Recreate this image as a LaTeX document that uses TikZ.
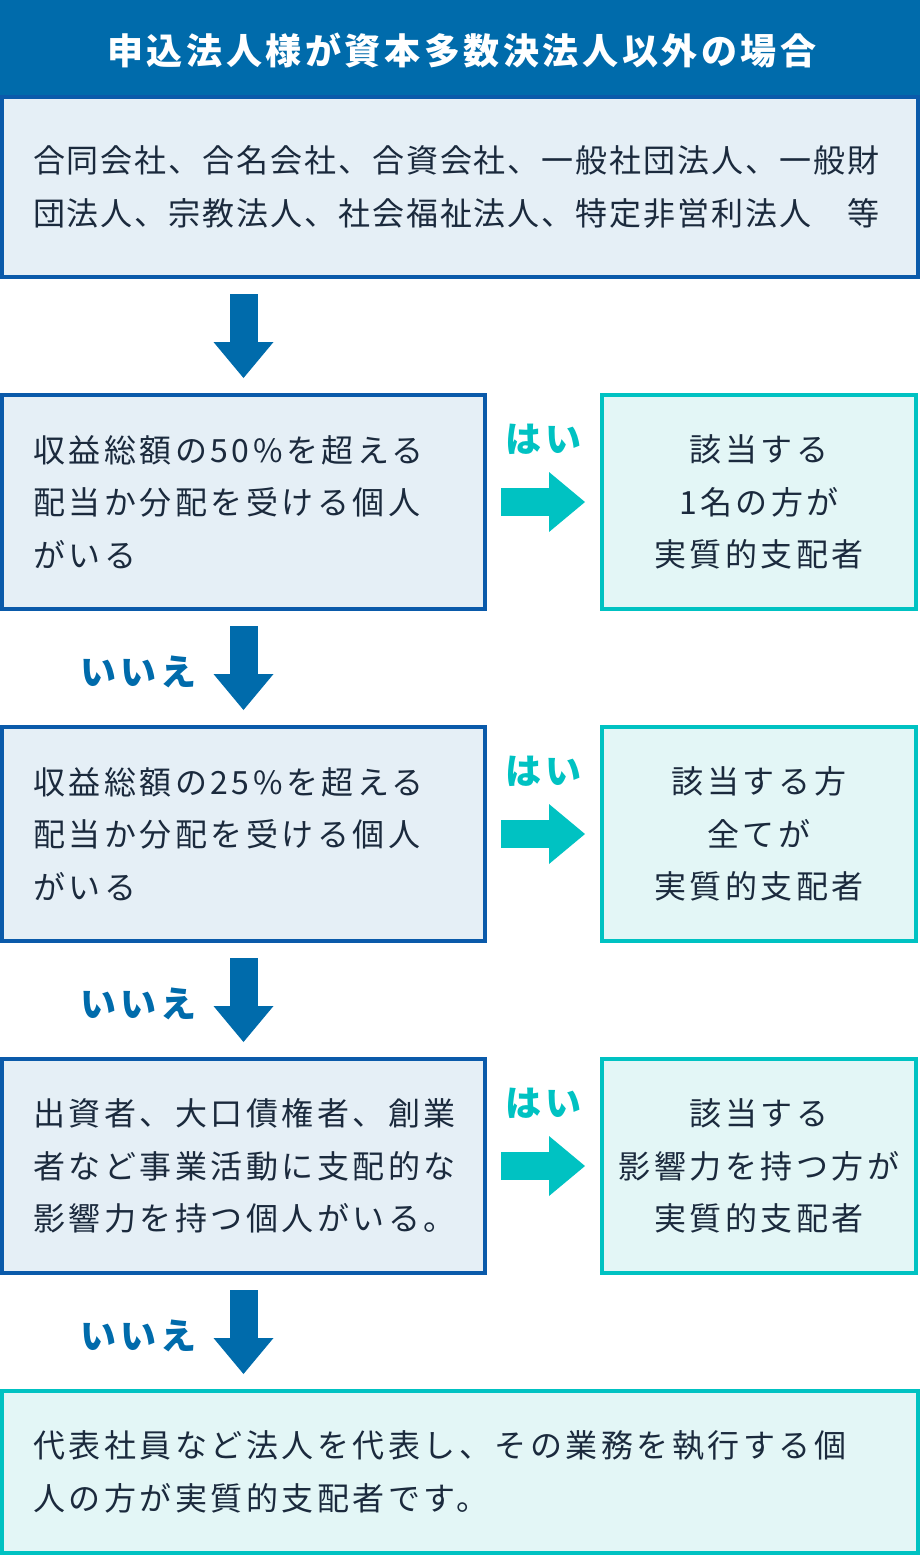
\documentclass[tikz,border=0pt]{standalone}
\usepackage{fontspec}
\setmainfont{Noto Sans CJK JP}
\newfontfamily\jpfont[LetterSpace=11]{Noto Sans CJK JP}
\newfontfamily\jpnarrow[LetterSpace=6]{Noto Sans CJK JP}
\newfontfamily\jptitle[LetterSpace=10]{Noto Sans CJK JP}
\newfontfamily\jplabel[LetterSpace=10]{Noto Sans CJK JP}
\usetikzlibrary{arrows.meta, positioning, calc}
\definecolor{headblue}{RGB}{0, 107, 171}
\definecolor{frameblue}{RGB}{10, 90, 170}
\definecolor{paleblue}{RGB}{229, 239, 246}
\definecolor{flowteal}{RGB}{0, 194, 194}
\definecolor{paleteal}{RGB}{227, 246, 246}
\definecolor{inknavy}{RGB}{27, 42, 61}

\begin{document}
\begin{tikzpicture}[
    x=1pt, y=-1pt,
    bodytext/.style={font=\jpfont\fontsize{32}{52.5}\selectfont, text=inknavy},
    askbox/.style={rectangle, draw=frameblue, fill=paleblue, line width=4pt, bodytext, align=left, inner xsep=31pt, minimum height=214pt, outer sep=0pt},
    hitbox/.style={rectangle, draw=flowteal, fill=paleteal, line width=4pt, bodytext, align=center, minimum width=314pt, minimum height=214pt, outer sep=0pt},
    downflow/.style={draw=headblue, line width=28pt, -{Triangle[length=36pt, width=60pt, line width=0pt]}, shorten <=17pt, shorten >=17pt},
    sideflow/.style={draw=flowteal, line width=28pt, -{Triangle[length=36pt, width=60pt, line width=0pt]}, shorten <=16pt, shorten >=17pt},
    yeslabel/.style={font=\jplabel\bfseries\fontsize{36}{40}\selectfont, text=flowteal},
    nolabel/.style={font=\jplabel\bfseries\fontsize{36}{40}\selectfont, text=headblue, left=30pt, yshift=-4pt}
]
\useasboundingbox (0,0) rectangle (920,1556);

% Header and entity types
\node[askbox, font=\jpnarrow\fontsize{32}{52.5}\selectfont, text width=854pt, minimum height=180pt] (types) at (460,187) {合同会社、合名会社、合資会社、一般社団法人、一般財\\団法人、宗教法人、社会福祉法人、特定非営利法人　等};
\node[rectangle, fill=headblue, minimum width=920pt, minimum height=95pt, inner sep=0pt] (header) at (460,47.5) {};
\node[font=\jptitle\bfseries\fontsize{36}{40}\selectfont, text=white] (title) at (462,50) {申込法人様が資本多数決法人以外の場合};

% Questions
\node[askbox, text width=421pt] (askA) at (243.5,502) {収益総額の50\%を超える\\配当か分配を受ける個人\\がいる};
\node[askbox, text width=421pt] (askB) at (243.5,834) {収益総額の25\%を超える\\配当か分配を受ける個人\\がいる};
\node[askbox, text width=421pt] (askC) at (243.5,1166) {出資者、大口債権者、創業\\者など事業活動に支配的な\\影響力を持つ個人がいる。};

% Results
\node[hitbox] (hitA) at (759,502) {該当する\\1名の方が\\実質的支配者};
\node[hitbox] (hitB) at (759,834) {該当する方\\全てが\\実質的支配者};
\node[hitbox] (hitC) at (759,1166) {該当する\\影響力を持つ方が\\実質的支配者};
\node[rectangle, draw=flowteal, fill=paleteal, line width=4pt, bodytext, align=left, text width=854pt, inner xsep=31pt, minimum height=162pt, outer sep=0pt] (final) at (460,1472) {代表社員など法人を代表し、その業務を執行する個\\人の方が実質的支配者です。};

% Flow arrows
\draw[downflow] (askA.north |- types.south) -- (askA.north);
\draw[downflow] (askA.south) -- node[nolabel] {いいえ} (askB.north);
\draw[downflow] (askB.south) -- node[nolabel] {いいえ} (askC.north);
\draw[downflow] (askC.south) -- node[nolabel] {いいえ} (askC.south |- final.north);

\foreach \q/\r in {askA/hitA, askB/hitB, askC/hitC} {
  \draw[sideflow] (\q.east) -- (\r.west);
  \node[yeslabel] at ($(\q.east)!0.5!(\r.west)+(0,-63)$) {はい};
}
\end{tikzpicture}
\end{document}
